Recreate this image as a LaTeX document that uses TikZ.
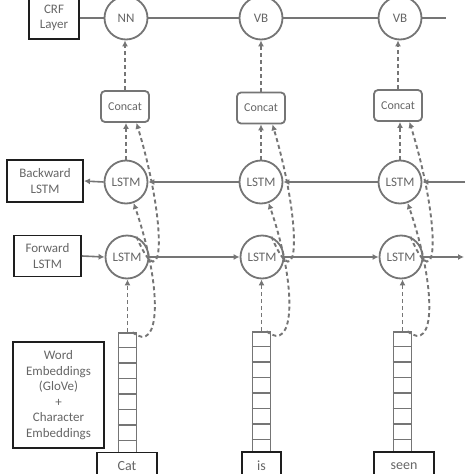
\documentclass[tikz,border=0pt]{standalone}
\usepackage{fontspec}
\setmainfont{Carlito}
\usetikzlibrary{arrows.meta,calc}
\definecolor{ln}{HTML}{757575}
\definecolor{tx}{HTML}{666666}
\definecolor{bk}{HTML}{1E1E1E}
\begin{document}
\begin{tikzpicture}[x=1pt,y=-1pt,
  circ/.style={circle,draw=ln,line width=1.8pt,fill=white,minimum size=43pt,inner sep=0pt,text=tx,font=\fontsize{13}{15}\selectfont},
  lbox/.style={draw=bk,line width=1.9pt,fill=white,text=tx,align=center,inner sep=0pt,font=\fontsize{13}{15.6}\selectfont},
  cbox/.style={draw=ln,rounded corners=4pt,line width=1.8pt,fill=white,text=tx,minimum width=48pt,minimum height=31pt,inner sep=0pt,font=\fontsize{12}{14}\selectfont},
  embstack/.style={draw=ln,line width=1.6pt,fill=white,minimum width=18pt,minimum height=122pt,inner sep=0pt},
  solidarrow/.style={draw=ln,line width=1.6pt,-{Latex[length=6pt,width=6pt]}},
  plainline/.style={draw=ln,line width=1.6pt},
  dasharrow/.style={draw=ln,line width=1.9pt,dash pattern=on 4pt off 3pt,-{Latex[length=6pt,width=6pt]}},
  wordbox/.style={lbox,minimum height=28pt,font=\fontsize{14}{16}\selectfont},
]
\useasboundingbox (0,0) rectangle (474,474);
\clip (0,0) rectangle (474,474);

% label boxes
\node[lbox,minimum width=50pt,minimum height=42pt] (crf) at (54,18) {CRF\\Layer};
\node[lbox,minimum width=76pt,minimum height=42pt] (bwd) at (45,181) {Backward\\LSTM};
\node[lbox,minimum width=67pt,minimum height=41pt] (fwd) at (47.5,256) {Forward\\LSTM};
\node[lbox,minimum width=91pt,minimum height=106pt] (embtxt) at (58.5,395) {Word\\Embeddings\\(GloVe)\\+\\Character\\Embeddings};

% columns
\foreach \i/\x/\cx/\cy/\ex/\ey/\tag in {1/126/125/106.5/127.5/394/NN, 2/261/261/108/261.5/393/VB, 3/400/398/105.5/402.5/393/VB}{
  \node[circ] (t\i) at (\x,18) {\tag};
  \node[cbox] (c\i) at (\cx,\cy) {Concat};
  \node[circ] (b\i) at (\x,182) {LSTM};
  \node[circ] (f\i) at (\x+1,257) {LSTM};
  \node[embstack] (e\i) at (\ex,\ey) {};
  \foreach \k in {1,...,7}
    \draw[ln,line width=1.4pt] ($(e\i.north west)!\k/8!(e\i.south west)$) -- ($(e\i.north east)!\k/8!(e\i.south east)$);
}

% word boxes
\node[wordbox,minimum width=60pt] (w1) at (127,466.5) {Cat};
\node[wordbox,minimum width=39pt] (w2) at (261.5,466) {is};
\node[wordbox,minimum width=60pt] (w3) at (404,466) {seen};

% top CRF row
\coordinate (topend) at (446,18);
\draw[plainline] (crf.east) -- (t1.west);
\draw[plainline] (t1.east) -- (t2.west);
\draw[plainline] (t2.east) -- (t3.west);
\draw[plainline] (t3.east) -- (topend);

% backward row
\coordinate (bin) at (465,182);
\draw[solidarrow] (bin) -- (b3.east);
\draw[solidarrow] (b3.west) -- (b2.east);
\draw[solidarrow] (b2.west) -- (b1.east);
\draw[solidarrow] (b1.west) -- (bwd.east);

% forward row
\coordinate (fout) at (464,257);
\draw[solidarrow] (fwd.east) -- (f1.west);
\draw[solidarrow] (f1.east) -- (f2.west);
\draw[solidarrow] (f2.east) -- (f3.west);
\draw[solidarrow] (f3.east) -- (fout);

% dashed connections per column
\foreach \i in {1,2,3}{
  \draw[dasharrow] (e\i.north) -- (e\i.north |- f\i.south);
  \draw[dasharrow] (b\i.north) -- (b\i.north |- c\i.south);
  \draw[dasharrow] (c\i.north) -- (c\i.north |- t\i.south);
  \draw[dasharrow] (f\i.65) .. controls ($(f\i)+(38,47)$) and ($(b\i)+(41,42)$) .. (c\i.-55);
  \draw[dasharrow] ($(e\i.north)+(5,0)$) .. controls ($(e\i.north)+(33,23)$) and ($(f\i)+(36,32)$) .. (b\i.-70);
}
\end{tikzpicture}
\end{document}
